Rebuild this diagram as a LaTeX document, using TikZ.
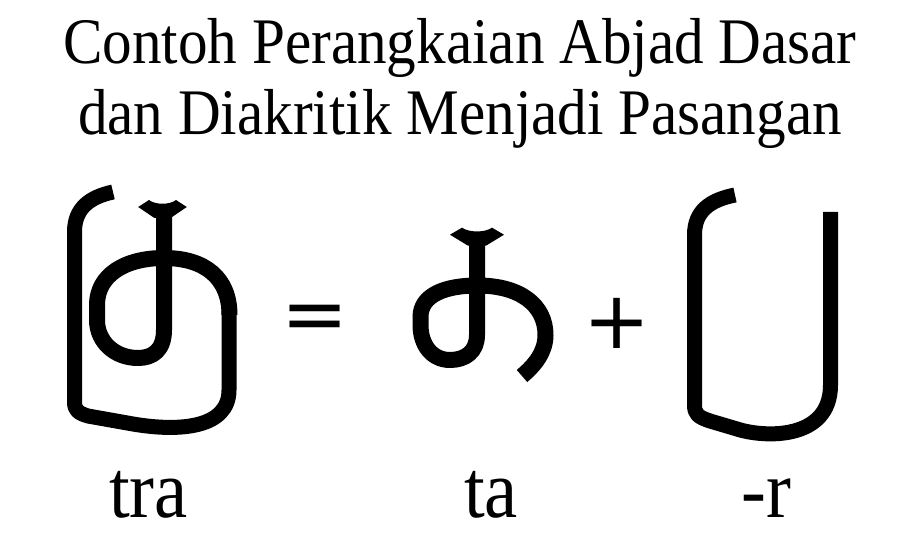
\documentclass[tikz,border=0pt]{standalone}
\usepackage{fontspec}
\setmainfont{Liberation Serif}[FakeStretch=0.91]
\newfontfamily\opfont{DejaVu Sans}
\usepackage{tikz}

\begin{document}
\begin{tikzpicture}[x=1pt, y=-1pt,
	glyph/.style={line width=15pt, line join=round},
	title/.style={anchor=base, font=\fontsize{65}{71}\selectfont},
	translit/.style={anchor=base, font=\fontsize{82}{90}\selectfont},
	op/.style={inner sep=0pt, font=\opfont\fontsize{80}{90}\selectfont}]
	\fill[white] (0,0) rectangle (921,548);
	\useasboundingbox (0,0) rectangle (921,548);
	
	\node[title] (title1) at (460,64) {Contoh Perangkaian Abjad Dasar};
	\node[title] (title2) at (460,135) {dan Diakritik Menjadi Pasangan};
	
	% tra
	\draw[glyph] (113,192) .. controls (90,197) and (74.5,208) .. (74.5,232) -- (74.5,402)
		.. controls (74.5,410) and (78,413) .. (88,416) -- (133,424)
		.. controls (180,432) and (229,428) .. (229,390) -- (229,310);
	\draw[glyph, line width=16pt] (164,212) -- (164,330) .. controls (164,350) and (153,358) .. (138,358)
		.. controls (115,358) and (97,342) .. (97,320) -- (97,305)
		.. controls (97,275) and (125,258) .. (164,258)
		.. controls (205,258) and (229.5,278) .. (229.5,315);
	\fill[shift={(162.5,200)}, xscale=0.9] (-27,7) -- (-15,0) .. controls (-8,5) and (8,5) .. (15,0)
		-- (27,7) -- (9,18) -- (-9,18) -- cycle;
	
	% ta
	\draw[glyph, line width=16pt] (477,238) -- (477,335) .. controls (477,352) and (465,360) .. (450,360)
		.. controls (432,360) and (420.5,345) .. (420.5,325) -- (420.5,317)
		.. controls (420.5,295) and (445,285.5) .. (477.5,285.5)
		.. controls (520,285.5) and (545.5,305) .. (545.5,335)
		.. controls (545.5,352) and (535,365) .. (522,376);
	\fill[shift={(477,227.7)}] (-27,7) -- (-15,0) .. controls (-8,5) and (8,5) .. (15,0)
		-- (27,7) -- (9,18) -- (-9,18) -- cycle;
	
	% -r
	\draw[glyph] (735,195) .. controls (710,200) and (694.5,211) .. (694.5,235) -- (694.5,405)
		.. controls (694.5,414) and (698,417) .. (710,421) -- (737,429)
		.. controls (765,438) and (830.5,440) .. (830.5,385) -- (830.5,212);
	
	\node[op] (eq) at (315.5,323.75) {=};
	\node[op] (plus) at (617.5,323.5) {+};
	
	\node[translit] (tra) at (148.5,517) {tra};
	\node[translit] (ta) at (491,517) {ta};
	\node[translit] (r) at (766.5,517) {-r};
\end{tikzpicture}
\end{document}
